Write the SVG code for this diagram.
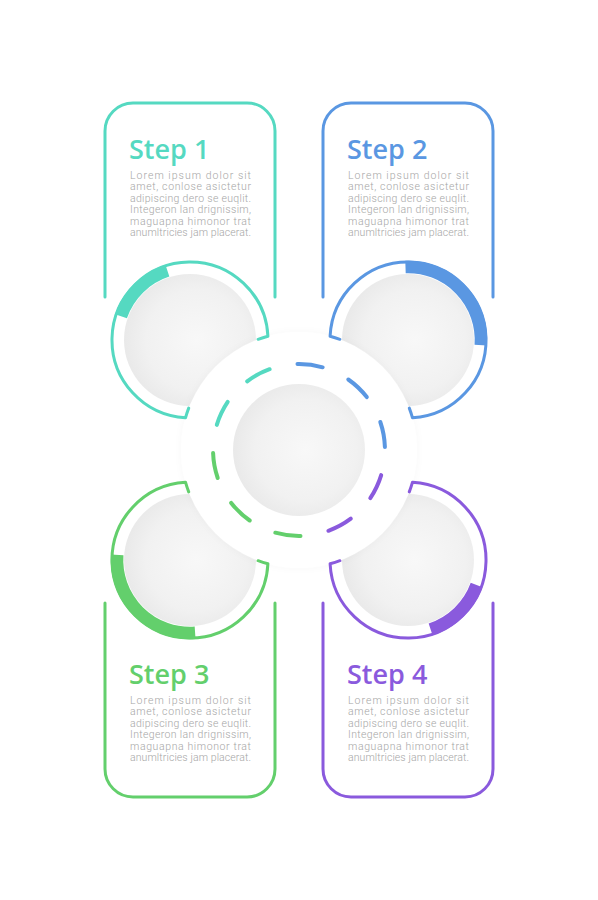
<svg xmlns="http://www.w3.org/2000/svg" width="598" height="900" viewBox="0 0 598 900">
<style>
.card{fill:none;stroke-width:3;stroke-linecap:round}
.thin{fill:none;stroke-width:3;stroke-linecap:round;stroke-linejoin:round}
.band{fill:none;stroke-width:12.5;stroke-linecap:butt}
.dash{fill:none;stroke-width:4;stroke-linecap:round}
.title{font-family:"Open Sans","Liberation Sans",sans-serif;font-weight:600;font-size:27px}
.body{font-family:Roboto,"Liberation Sans",sans-serif;font-weight:300;font-size:10.5px;fill:#a6a6a6}
.ball{fill:url(#g)}
.teal{stroke:#55d9c1}.blue{stroke:#5a97e2}.green{stroke:#63cf6c}.purple{stroke:#8a5add}
</style>
<defs>
<radialGradient id="g" cx="0.55" cy="0.5" r="0.55">
<stop offset="0" stop-color="#f8f8f8"/>
<stop offset="0.7" stop-color="#f1f1f1"/>
<stop offset="1" stop-color="#e9e9e9"/>
</radialGradient>
<filter id="sh" x="-20%" y="-20%" width="140%" height="140%">
<feGaussianBlur in="SourceAlpha" stdDeviation="5"/>
<feComponentTransfer><feFuncA type="linear" slope="0.035"/></feComponentTransfer>
<feMerge><feMergeNode/><feMergeNode in="SourceGraphic"/></feMerge>
</filter>
</defs>
<rect width="598" height="900" fill="#ffffff"/>

<g id="step1">
<path class="card teal" d="M105 297 V131 A28 28 0 0 1 133 103 H247 A28 28 0 0 1 275 131 V297"/>
<text class="title" x="129" y="159" fill="#55d9c1">Step 1</text>
<g class="body">
<text x="130" y="178.5" textLength="121" lengthAdjust="spacing">Lorem ipsum dolor sit</text>
<text x="130" y="190" textLength="121" lengthAdjust="spacing">amet, conlose asictetur</text>
<text x="130" y="201.5" textLength="121" lengthAdjust="spacing">adipiscing dero se euqlit.</text>
<text x="130" y="213" textLength="121" lengthAdjust="spacing">Integeron lan drignissim,</text>
<text x="130" y="224.5" textLength="121" lengthAdjust="spacing">maguapna himonor trat</text>
<text x="130" y="236" textLength="121" lengthAdjust="spacing">anumltricies jam placerat.</text>
</g>
<circle class="ball" cx="190" cy="340" r="66"/>
</g>

<g id="step2">
<path class="card blue" d="M323 297 V131 A28 28 0 0 1 351 103 H465 A28 28 0 0 1 493 131 V297"/>
<text class="title" x="347" y="159" fill="#5a97e2">Step 2</text>
<g class="body">
<text x="348" y="178.5" textLength="121" lengthAdjust="spacing">Lorem ipsum dolor sit</text>
<text x="348" y="190" textLength="121" lengthAdjust="spacing">amet, conlose asictetur</text>
<text x="348" y="201.5" textLength="121" lengthAdjust="spacing">adipiscing dero se euqlit.</text>
<text x="348" y="213" textLength="121" lengthAdjust="spacing">Integeron lan drignissim,</text>
<text x="348" y="224.5" textLength="121" lengthAdjust="spacing">maguapna himonor trat</text>
<text x="348" y="236" textLength="121" lengthAdjust="spacing">anumltricies jam placerat.</text>
</g>
<circle class="ball" cx="408" cy="340" r="66"/>
</g>

<g id="step3">
<path class="card green" d="M105 603 V769 A28 28 0 0 0 133 797 H247 A28 28 0 0 0 275 769 V603"/>
<text class="title" x="129" y="684" fill="#63cf6c">Step 3</text>
<g class="body">
<text x="130" y="703.5" textLength="121" lengthAdjust="spacing">Lorem ipsum dolor sit</text>
<text x="130" y="715" textLength="121" lengthAdjust="spacing">amet, conlose asictetur</text>
<text x="130" y="726.5" textLength="121" lengthAdjust="spacing">adipiscing dero se euqlit.</text>
<text x="130" y="738" textLength="121" lengthAdjust="spacing">Integeron lan drignissim,</text>
<text x="130" y="749.5" textLength="121" lengthAdjust="spacing">maguapna himonor trat</text>
<text x="130" y="761" textLength="121" lengthAdjust="spacing">anumltricies jam placerat.</text>
</g>
<circle class="ball" cx="190" cy="560" r="66"/>
</g>

<g id="step4">
<path class="card purple" d="M323 603 V769 A28 28 0 0 0 351 797 H465 A28 28 0 0 0 493 769 V603"/>
<text class="title" x="347" y="684" fill="#8a5add">Step 4</text>
<g class="body">
<text x="348" y="703.5" textLength="121" lengthAdjust="spacing">Lorem ipsum dolor sit</text>
<text x="348" y="715" textLength="121" lengthAdjust="spacing">amet, conlose asictetur</text>
<text x="348" y="726.5" textLength="121" lengthAdjust="spacing">adipiscing dero se euqlit.</text>
<text x="348" y="738" textLength="121" lengthAdjust="spacing">Integeron lan drignissim,</text>
<text x="348" y="749.5" textLength="121" lengthAdjust="spacing">maguapna himonor trat</text>
<text x="348" y="761" textLength="121" lengthAdjust="spacing">anumltricies jam placerat.</text>
</g>
<circle class="ball" cx="408" cy="560" r="66"/>
</g>

<g id="center">
<circle cx="299" cy="450" r="118" fill="#ffffff" filter="url(#sh)"/>
<circle class="ball" cx="299" cy="450" r="66"/>
</g>

<g id="connectors">
<path class="thin teal" d="M258.1 339.3 A118 118 0 0 1 267.9 336.2 A78 78 0 1 0 185.5 417.8 A118 118 0 0 1 188.7 408.1"/>
<path class="band teal" d="M121 316.2 A73 73 0 0 1 167.4 270.6"/>
<path class="thin blue" d="M339.9 339.3 A118 118 0 0 0 330.1 336.2 A78 78 0 1 1 412.5 417.8 A118 118 0 0 0 409.3 408.1"/>
<path class="band blue" d="M405.5 267 A73 73 0 0 1 480.8 345.1"/>
<path class="thin green" d="M258.1 560.7 A118 118 0 0 0 267.9 563.8 A78 78 0 1 1 185.5 482.2 A118 118 0 0 0 188.7 491.9"/>
<path class="band green" d="M195.1 632.8 A73 73 0 0 1 117.2 554.9"/>
<path class="thin purple" d="M339.9 560.7 A118 118 0 0 1 330.1 563.8 A78 78 0 1 0 412.5 482.2 A118 118 0 0 1 409.3 491.9"/>
<path class="band purple" d="M476.6 585 A73 73 0 0 1 430.6 629.4"/>
<path class="dash blue" d="M297.5 364 A86 86 0 0 1 322.7 367.3"/>
<path class="dash blue" d="M348.3 379.5 A86 86 0 0 1 366.8 397.1"/>
<path class="dash blue" d="M380.3 422 A86 86 0 0 1 384.9 447"/>
<path class="dash purple" d="M381.2 475.1 A86 86 0 0 1 370.3 498.1"/>
<path class="dash purple" d="M350.8 518.7 A86 86 0 0 1 328.4 530.8"/>
<path class="dash green" d="M300.5 536 A86 86 0 0 1 275.3 532.7"/>
<path class="dash green" d="M249.7 520.5 A86 86 0 0 1 231.2 502.9"/>
<path class="dash green" d="M217.7 478 A86 86 0 0 1 213.1 453"/>
<path class="dash teal" d="M216.8 424.9 A86 86 0 0 1 227.7 401.9"/>
<path class="dash teal" d="M247.2 381.3 A86 86 0 0 1 269.6 369.2"/>
</g>
</svg>
